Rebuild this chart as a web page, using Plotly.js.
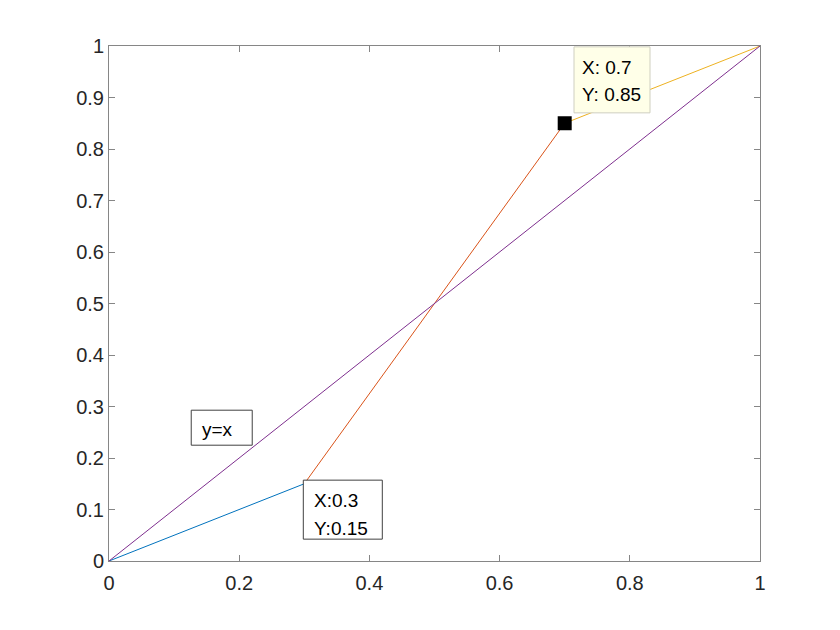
<!DOCTYPE html>
<html>
<head>
<meta charset="utf-8">
<script src="https://cdn.plot.ly/plotly-3.0.1.min.js"></script>
<style>html,body{margin:0;padding:0;background:#fff;}#chart{width:840px;height:630px;}</style>
</head>
<body>
<div id="chart"></div>
<script>
const seg1X = [0, 0.3];
const seg1Y = [0, 0.15];
const seg2X = [0.3, 0.7];
const seg2Y = [0.15, 0.85];
const seg3X = [0.7, 1];
const seg3Y = [0.85, 1];
const diagX = [0, 1];
const diagY = [0, 1];
const tipX = [0.7];
const tipY = [0.85];
const xTickVals = [0, 0.2, 0.4, 0.6, 0.8, 1];
const xTickText = ['0', '0.2', '0.4', '0.6', '0.8', '1'];
const yTickVals = [0, 0.1, 0.2, 0.3, 0.4, 0.5, 0.6, 0.7, 0.8, 0.9, 1];
const yTickText = ['0', '0.1', '0.2', '0.3', '0.4', '0.5', '0.6', '0.7', '0.8', '0.9', '1'];
const diagLabel = 'y=x';
const lowTip = ['X:0.3', 'Y:0.15'];
const highTip = ['X: 0.7', 'Y: 0.85'];

const ln = (x, y, c) => ({x: x, y: y, type: 'scatter', mode: 'lines', line: {color: c, width: 1}, hoverinfo: 'skip'});
const data = [
  ln(seg1X, seg1Y, '#0072BD'),
  ln(seg2X, seg2Y, '#D95319'),
  ln(seg3X, seg3Y, '#EDB120'),
  ln(diagX, diagY, '#7E2F8E'),
  {x: tipX, y: tipY, type: 'scatter', mode: 'markers', marker: {symbol: 'square', size: 14, color: '#000000', line: {width: 0}}, hoverinfo: 'skip'}
];

const font = {family: 'Liberation Sans, Arial, sans-serif', size: 20, color: '#262626'};
const tfont = {family: 'Liberation Sans, Arial, sans-serif', size: 19, color: '#000000'};
const axisCommon = {
  range: [0, 1], showgrid: false, zeroline: false, showline: true, linecolor: '#868686', linewidth: 1,
  mirror: 'ticks', ticks: 'inside', ticklen: 6, tickcolor: '#868686', tickwidth: 1,
  tickfont: font, tickmode: 'array', fixedrange: true
};

const shapes = [
  {type: 'rect', xref: 'x', yref: 'y', xsizemode: 'pixel', ysizemode: 'pixel', xanchor: 0.22, yanchor: 0.22,
   x0: -61, x1: 0, y0: 2.5, y1: 37.5, line: {color: '#404040', width: 1}, fillcolor: '#ffffff', layer: 'above'},
  {type: 'rect', xref: 'x', yref: 'y', xsizemode: 'pixel', ysizemode: 'pixel', xanchor: seg1X[1], yanchor: seg1Y[1],
   x0: -1, x1: 78, y0: 3.6, y1: -55.4, line: {color: '#404040', width: 1}, fillcolor: '#ffffff', layer: 'above'},
  {type: 'rect', xref: 'x', yref: 'y', xsizemode: 'pixel', ysizemode: 'pixel', xanchor: tipX[0], yanchor: tipY[0],
   x0: 9.3, x1: 85.3, y0: 10.4, y1: 76.4, line: {color: '#cfcfc0', width: 1}, fillcolor: '#ffffe8', layer: 'above'}
];

const txt = (x, y, t, xs, ys) => ({x: x, y: y, xref: 'x', yref: 'y', text: t, showarrow: false,
  xanchor: 'left', yanchor: 'middle', xshift: xs, yshift: ys, font: tfont});
const annotations = [
  txt(0.22, 0.22, diagLabel, -52, 18.5),
  txt(seg1X[1], seg1Y[1], lowTip[0], 8, -16.4),
  txt(seg1X[1], seg1Y[1], lowTip[1], 8, -44.4),
  txt(tipX[0], tipY[0], highTip[0], 15, 55.4),
  txt(tipX[0], tipY[0], highTip[1], 15, 28.4)
];

const layout = {
  width: 840, height: 630,
  margin: {l: 109, r: 80, t: 46, b: 69, pad: 0},
  paper_bgcolor: '#ffffff', plot_bgcolor: '#ffffff',
  showlegend: false,
  xaxis: Object.assign({}, axisCommon, {tickvals: xTickVals, ticktext: xTickText, ticklabelstandoff: 4}),
  yaxis: Object.assign({}, axisCommon, {tickvals: yTickVals, ticktext: yTickText}),
  shapes: shapes,
  annotations: annotations
};

Plotly.newPlot('chart', data, layout, {staticPlot: true});
</script>
</body>
</html>
